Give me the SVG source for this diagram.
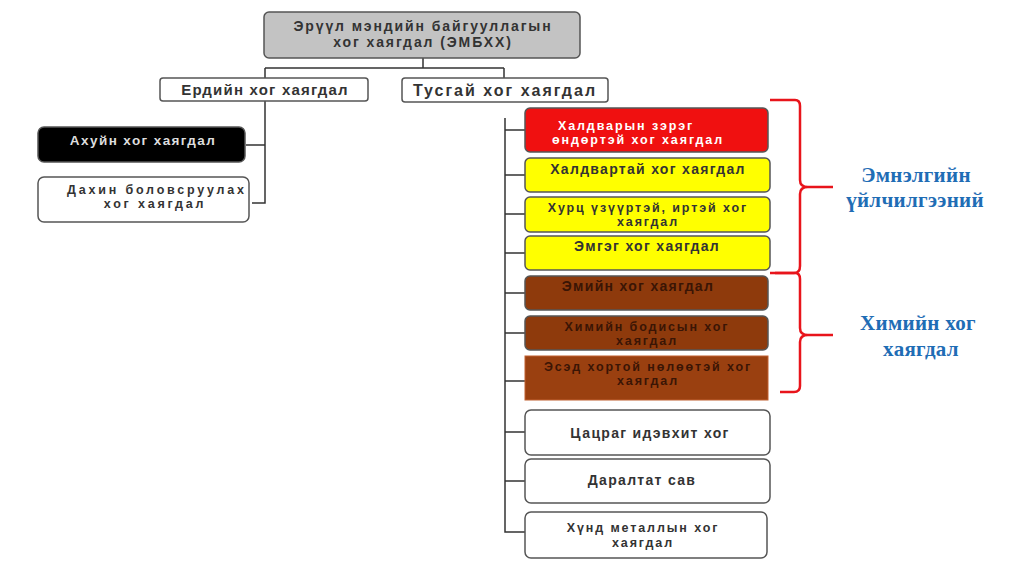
<svg xmlns="http://www.w3.org/2000/svg" width="1024" height="576" viewBox="0 0 1024 576">
<style>
.b{stroke:#555;stroke-width:1.5}
.t{font-family:"Liberation Sans",Arial,sans-serif;font-weight:bold;font-size:14px;letter-spacing:1.3px;fill:#333;text-anchor:middle}
.t2{font-size:12.5px;letter-spacing:1.9px}
.w{fill:#fff}
.c{fill:none;stroke:#333;stroke-width:1.5}
.br{fill:none;stroke:#e8141b;stroke-width:2.5}
.l{font-family:"Liberation Serif","Times New Roman",serif;font-weight:bold;font-size:21px;letter-spacing:0.3px;fill:#1f6db5;text-anchor:middle}
.bt{fill:#3a1505}
</style>
<rect width="1024" height="576" fill="#fff"/>
<g id="connectors">
<path class="c" d="M423 58V68M265 68H504M265 68V78M504 68V78"/>
<path class="c" d="M265 101V203H252M265 145H246"/>
<path class="c" d="M505 118V532H525M505 130H525M505 175H525M505 214H525M505 253H525M505 293H525M505 333H525M505 381H525M505 432H525M505 481H525"/>
</g>
<g id="root"><rect class="b" x="264" y="12" width="316" height="46" rx="5" fill="#c3c3c3"/>
<text class="t" x="423" y="31" style="letter-spacing:1.9px">Эрүүл мэндийн байгууллагын</text><text class="t" x="423" y="47" style="letter-spacing:1.9px">хог хаягдал (ЭМБХХ)</text></g>
<g id="n-erdiin"><rect class="b w" x="160" y="78" width="208" height="23" rx="3"/><text class="t" x="265" y="95" style="font-size:15px;letter-spacing:1.2px">Ердийн хог хаягдал</text></g>
<g id="n-tusgai"><rect class="b w" x="402" y="78" width="206" height="24" rx="3"/><text class="t" x="505" y="96" style="font-size:16px;letter-spacing:2px">Тусгай  хог хаягдал</text></g>
<g id="n-ahuin"><rect class="b" x="38" y="127" width="207" height="35" rx="6" fill="#000"/><text class="t" x="143" y="145" style="fill:#ddd;font-size:13.5px;letter-spacing:1.4px">Ахуйн хог хаягдал</text></g>
<g id="n-dahin"><rect class="b w" x="38" y="177" width="211" height="45" rx="6"/><text class="t t2" x="157" y="194" style="letter-spacing:2.8px">Дахин боловсруулах</text><text class="t t2" x="155" y="208" style="letter-spacing:2.8px">хог хаягдал</text></g>
<g id="n-haldvaryn"><rect class="b" x="525" y="108" width="243" height="44" rx="5" fill="#f01010"/><text class="t t2" x="626" y="130" style="fill:#fff">Халдварын зэрэг</text><text class="t t2" x="638" y="144" style="fill:#fff">өндөртэй хог  хаягдал</text></g>
<g id="n-haldvartai"><rect class="b" x="525" y="158" width="245" height="34" rx="5" fill="#ffff00"/><text class="t" x="648" y="174">Халдвартай хог хаягдал</text></g>
<g id="n-hurts"><rect class="b" x="525" y="197" width="245" height="35" rx="5" fill="#ffff00"/><text class="t t2" x="648" y="212">Хурц үзүүртэй, иртэй хог</text><text class="t t2" x="648" y="226">хаягдал</text></g>
<g id="n-emgeg"><rect class="b" x="525" y="236" width="245" height="34" rx="5" fill="#ffff00"/><text class="t" x="647" y="251">Эмгэг хог хаягдал</text></g>
<g id="n-emiin"><rect class="b" x="525" y="276" width="243" height="34" rx="5" fill="#8e3a0c"/><text class="t bt" x="638" y="291">Эмийн хог хаягдал</text></g>
<g id="n-himiin"><rect class="b" x="525" y="316" width="243" height="34" rx="5" fill="#8e3a0c"/><text class="t t2 bt" x="647" y="331">Химийн бодисын хог</text><text class="t t2 bt" x="647" y="345">хаягдал</text></g>
<g id="n-essed"><rect x="525" y="356" width="243" height="44" fill="#9a4010" stroke="#c06030" stroke-width="1"/><text class="t t2 bt" x="648" y="371">Эсэд хортой нөлөөтэй хог</text><text class="t t2 bt" x="648" y="385">хаягдал</text></g>
<g id="n-tsatsrag"><rect class="b w" x="525" y="410" width="245" height="45" rx="6"/><text class="t" x="650" y="438">Цацраг идэвхит хог</text></g>
<g id="n-daraltat"><rect class="b w" x="525" y="459" width="245" height="44" rx="6"/><text class="t" x="642" y="485">Даралтат сав</text></g>
<g id="n-hund"><rect class="b w" x="525" y="512" width="242" height="46" rx="6"/><text class="t t2" x="643" y="532">Хүнд металлын хог</text><text class="t t2" x="643" y="547">хаягдал</text></g>
<g id="braces">
<path class="br" d="M770 100H795Q800 100 800 106V180Q800 187 808 187H833M808 187Q800 187 800 194V266Q800 273 794 273H770"/>
<path class="br" d="M775 273H795Q800 273 800 279V328Q800 335 808 335H833M808 335Q800 335 800 342V386Q800 392 794 392H780"/>
</g>
<g id="labels">
<text class="l" x="916" y="182">Эмнэлгийн</text><text class="l" x="915" y="207">үйлчилгээний</text>
<text class="l" x="918" y="330">Химийн хог</text><text class="l" x="921" y="356">хаягдал</text>
</g>
</svg>
